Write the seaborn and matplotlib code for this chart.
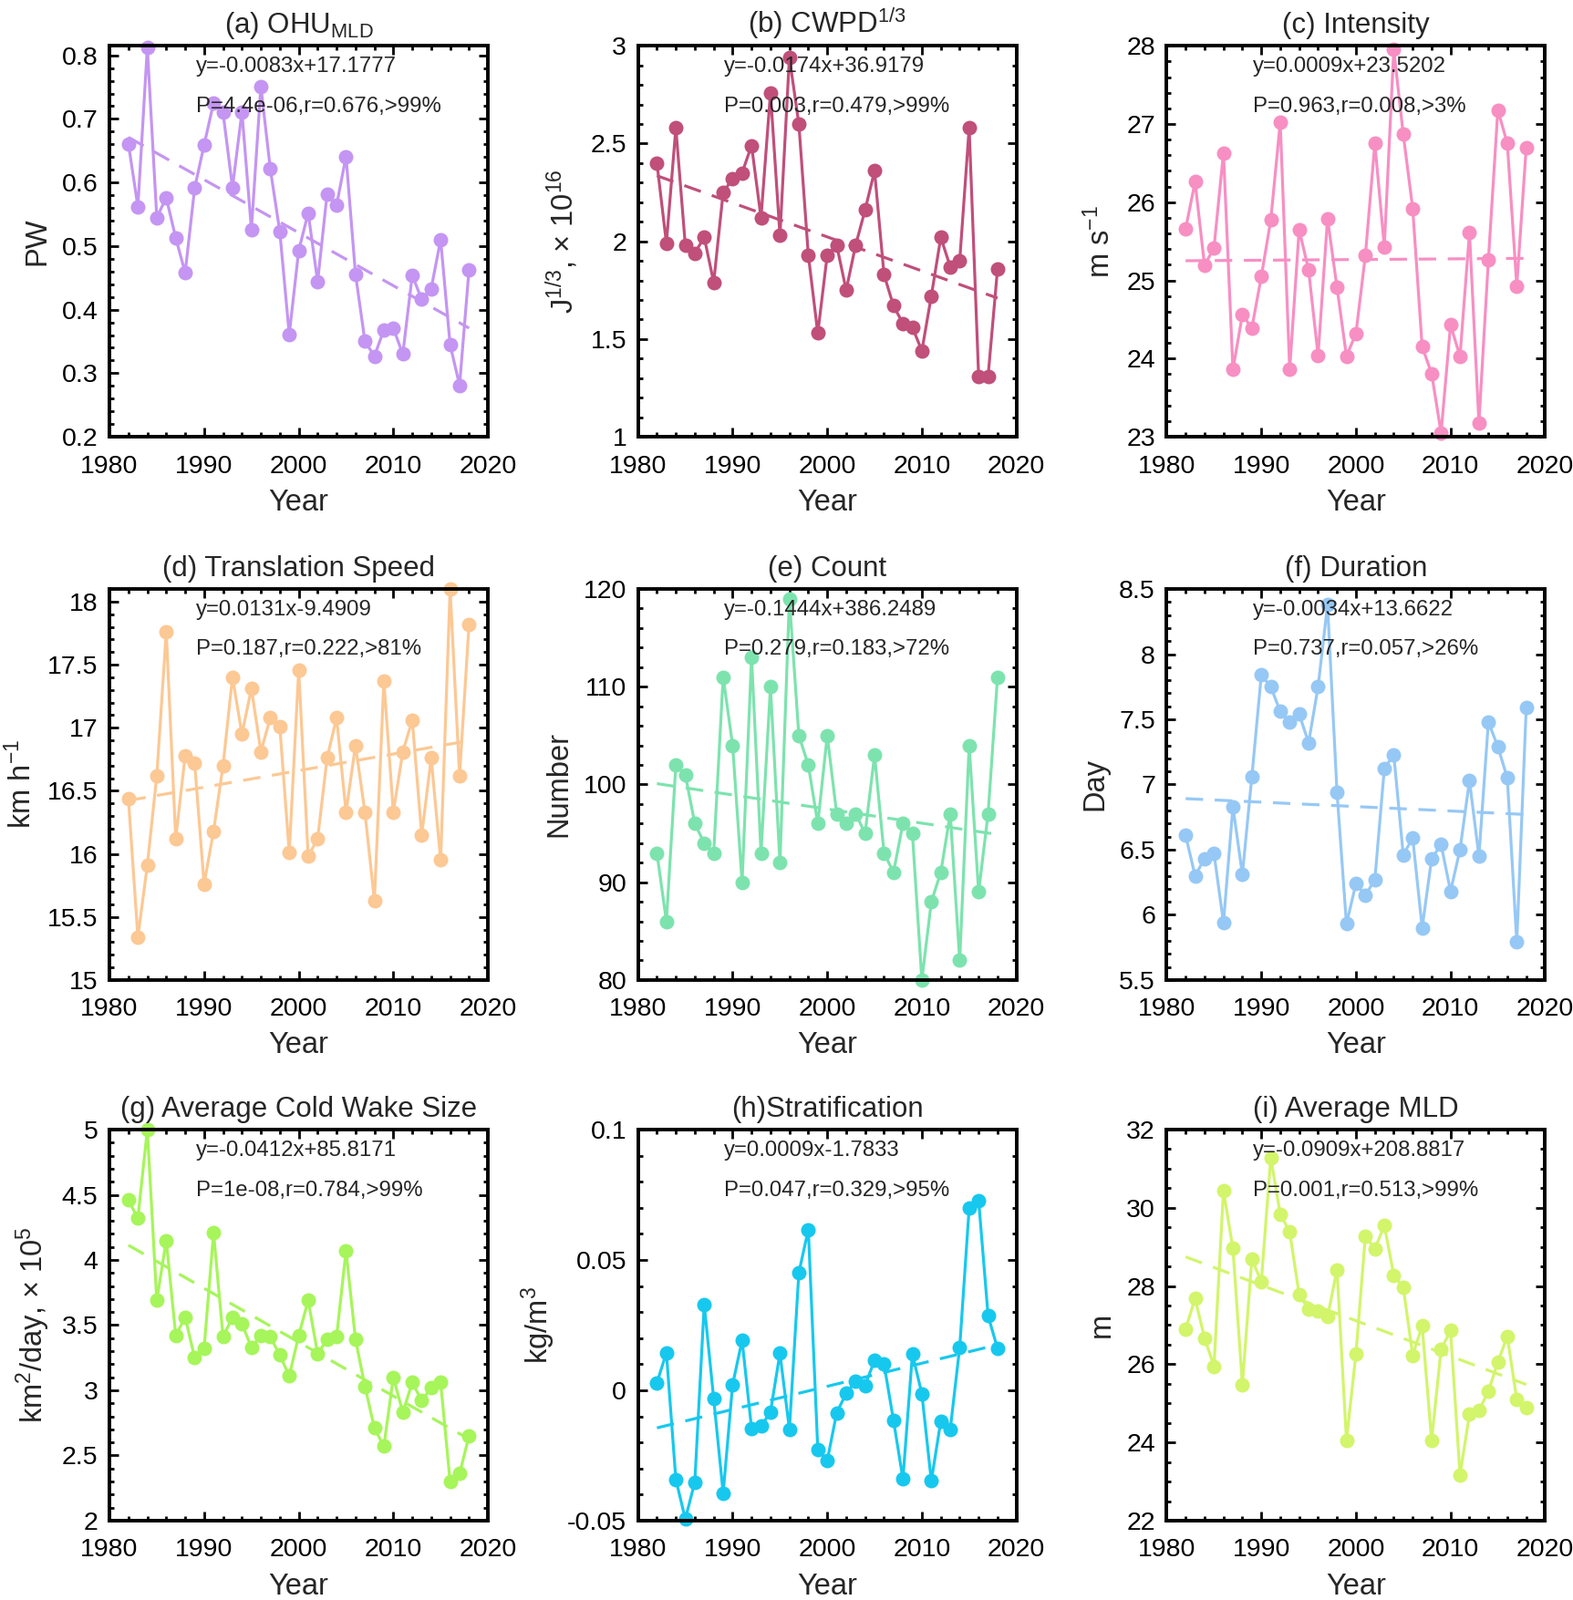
import numpy as np
import pandas as pd
import matplotlib
matplotlib.use("Agg")
import matplotlib.pyplot as plt
import seaborn as sns
from matplotlib.ticker import AutoMinorLocator, FormatStrFormatter, MultipleLocator

years = np.arange(1982, 2019)

ohu = [0.661, 0.562, 0.812, 0.545, 0.576, 0.513, 0.458, 0.591, 0.659, 0.725,
       0.710, 0.592, 0.711, 0.526, 0.751, 0.621, 0.523, 0.361, 0.493, 0.552,
       0.444, 0.582, 0.564, 0.641, 0.456, 0.350, 0.327, 0.368, 0.371, 0.330,
       0.454, 0.416, 0.433, 0.510, 0.345, 0.281, 0.463]
cwpd = [2.40, 1.99, 2.58, 1.98, 1.94, 2.02, 1.79, 2.25, 2.32, 2.35,
        2.49, 2.12, 2.76, 2.03, 2.94, 2.60, 1.93, 1.53, 1.93, 1.98,
        1.75, 1.98, 2.16, 2.36, 1.83, 1.67, 1.58, 1.56, 1.44, 1.72,
        2.02, 1.87, 1.90, 2.58, 1.31, 1.31, 1.86]
intensity = [25.66, 26.26, 25.19, 25.42, 26.63, 23.86, 24.56, 24.39, 25.05, 25.77,
             27.02, 23.86, 25.65, 25.13, 24.04, 25.79, 24.91, 24.03, 24.32, 25.32,
             26.75, 25.43, 27.95, 26.87, 25.92, 24.15, 23.81, 23.05, 24.43, 24.03,
             25.61, 23.18, 25.26, 27.18, 26.75, 24.93, 26.70]
speed = [16.44, 15.34, 15.91, 16.62, 17.76, 16.12, 16.78, 16.72, 15.76, 16.18,
         16.70, 17.40, 16.95, 17.31, 16.81, 17.08, 17.01, 16.01, 17.46, 15.98,
         16.12, 16.76, 17.08, 16.33, 16.86, 16.33, 15.63, 17.37, 16.33, 16.81,
         17.06, 16.15, 16.76, 15.95, 18.10, 16.62, 17.82]
count = [93, 86, 102, 101, 96, 94, 93, 111, 104, 90,
         113, 93, 110, 92, 119, 105, 102, 96, 105, 97,
         96, 97, 95, 103, 93, 91, 96, 95, 80, 88,
         91, 97, 82, 104, 89, 97, 111]
duration = [6.61, 6.30, 6.43, 6.47, 5.94, 6.83, 6.31, 7.06, 7.84, 7.75,
            7.56, 7.48, 7.54, 7.32, 7.75, 8.38, 6.94, 5.93, 6.24, 6.15,
            6.27, 7.12, 7.23, 6.46, 6.59, 5.90, 6.43, 6.54, 6.18, 6.50,
            7.03, 6.45, 7.48, 7.29, 7.05, 5.79, 7.59]
wake_size = [4.46, 4.32, 5.00, 3.69, 4.15, 3.42, 3.56, 3.25, 3.32, 4.21,
             3.41, 3.56, 3.51, 3.33, 3.42, 3.41, 3.27, 3.11, 3.42, 3.69,
             3.28, 3.39, 3.41, 4.07, 3.39, 3.03, 2.71, 2.57, 3.10, 2.83,
             3.06, 2.92, 3.02, 3.06, 2.30, 2.36, 2.65]
strat = [0.0029, 0.0144, -0.0342, -0.0494, -0.0352, 0.0329, -0.0033, -0.0395, 0.0022, 0.0192,
         -0.0146, -0.0138, -0.0083, 0.0142, -0.0150, 0.0451, 0.0617, -0.0226, -0.0270, -0.0086,
         -0.0012, 0.0035, 0.0019, 0.0115, 0.0101, -0.0115, -0.0340, 0.0139, -0.0013, -0.0348,
         -0.0118, -0.0150, 0.0165, 0.0699, 0.0729, 0.0286, 0.0160]
mld = [26.90, 27.68, 26.67, 25.95, 30.44, 28.96, 25.48, 28.69, 28.11, 31.28,
       29.84, 29.39, 27.78, 27.41, 27.37, 27.21, 28.42, 24.05, 26.26, 29.28,
       28.94, 29.55, 28.28, 27.97, 26.23, 26.98, 24.05, 26.38, 26.86, 23.17,
       24.72, 24.82, 25.31, 26.05, 26.72, 25.09, 24.90]

series = [ohu, cwpd, intensity, speed, count, duration, wake_size, strat, mld]
titles = ["(a) OHU$_{MLD}$", "(b) CWPD$^{1/3}$", "(c) Intensity",
          "(d) Translation Speed", "(e) Count", "(f) Duration",
          "(g) Average Cold Wake Size", "(h)Stratification", "(i) Average MLD"]
ylabels = ["PW", "J$^{1/3}$, \u00d7 10$^{16}$", "m s$^{-1}$",
           "km h$^{-1}$", "Number", "Day",
           "km$^2$/day, \u00d7 10$^5$", "kg/m$^3$", "m"]
equations = ["y=-0.0083x+17.1777", "y=-0.0174x+36.9179", "y=0.0009x+23.5202",
             "y=0.0131x-9.4909", "y=-0.1444x+386.2489", "y=-0.0034x+13.6622",
             "y=-0.0412x+85.8171", "y=0.0009x-1.7833", "y=-0.0909x+208.8817"]
stats = ["P=4.4e-06,r=0.676,>99%", "P=0.003,r=0.479,>99%", "P=0.963,r=0.008,>3%",
         "P=0.187,r=0.222,>81%", "P=0.279,r=0.183,>72%", "P=0.737,r=0.057,>26%",
         "P=1e-08,r=0.784,>99%", "P=0.047,r=0.329,>95%", "P=0.001,r=0.513,>99%"]
colors = ["#C495F2", "#C04F7A", "#F78FC3", "#FCC894", "#7DE3AE",
          "#96C8F5", "#A6F55A", "#17C8EE", "#D2F56B"]
ylims = [(0.2, 0.815), (1, 3), (23, 28), (15, 18.1), (80, 120),
         (5.5, 8.5), (2, 5), (-0.05, 0.1), (22, 32)]
ysteps = [0.1, 0.5, 1, 0.5, 10, 0.5, 0.5, 0.05, 2]

sns.set_style("ticks")
plt.rcParams["font.family"] = ["Liberation Sans", "DejaVu Sans"]
plt.rcParams["mathtext.default"] = "regular"
plt.rcParams["axes.unicode_minus"] = False

fig = plt.figure(figsize=(17.25, 17.55), dpi=100)
lefts = [0.0696, 0.4056, 0.7417]
bottoms = [0.727, 0.3875, 0.0496]
w, h = 0.2406, 0.2444

for i, vals in enumerate(series):
    ax = fig.add_axes([lefts[i % 3], bottoms[i // 3], w, h])
    df = pd.DataFrame({"year": years, "value": vals})
    # dashed linear trend, solid yearly series on top
    sns.regplot(data=df, x="year", y="value", scatter=False, ci=None, ax=ax,
                line_kws=dict(color=colors[i], ls=(0, (6, 4)), lw=2.3))
    sns.lineplot(data=df, x="year", y="value", color=colors[i], lw=2.3,
                 marker="o", markersize=11.5, markeredgewidth=0, clip_on=False,
                 ax=ax)
    ax.set_xlim(1980, 2020)
    ax.set_ylim(*ylims[i])
    ax.xaxis.set_major_locator(MultipleLocator(10))
    ax.yaxis.set_major_locator(MultipleLocator(ysteps[i]))
    ax.yaxis.set_major_formatter(FormatStrFormatter("%g"))
    ax.xaxis.set_minor_locator(AutoMinorLocator(5))
    ax.yaxis.set_minor_locator(AutoMinorLocator())
    ax.tick_params(which="both", direction="in", top=True, right=True,
                   labelsize=20.5, width=2, colors="black")
    ax.tick_params(which="major", length=7)
    ax.tick_params(which="minor", length=3.5)
    ax.tick_params(axis="x", which="major", pad=14)
    ax.tick_params(axis="y", which="major", pad=9)
    for sp in ax.spines.values():
        sp.set_linewidth(2.8)
        sp.set_color("black")
    ax.set_xlabel("Year", fontsize=23.5, labelpad=8)
    ax.set_ylabel(ylabels[i], fontsize=23.5, labelpad=8)
    ax.set_title(titles[i], fontsize=22.5, pad=10)
    ax.text(0.228, 0.946, equations[i], transform=ax.transAxes,
            fontsize=17.3, va="center", ha="left")
    ax.text(0.228, 0.845, stats[i], transform=ax.transAxes,
            fontsize=17.3, va="center", ha="left")

fig.savefig("out.png", dpi=100)
plt.close(fig)
